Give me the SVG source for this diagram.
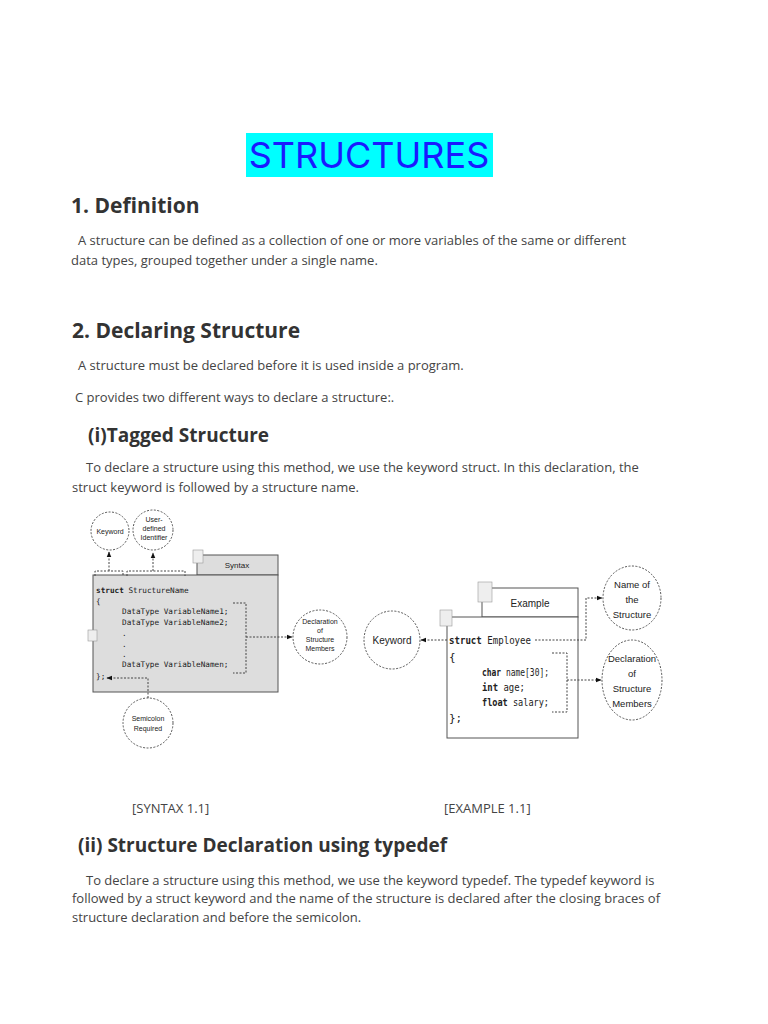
<svg xmlns="http://www.w3.org/2000/svg" width="768" height="1024" viewBox="0 0 768 1024">
<defs>
<style>
.h{font-family:"Open Sans","Liberation Sans",sans-serif;font-weight:bold;fill:#333;}
.b{font-family:"Open Sans","Liberation Sans",sans-serif;font-size:13px;fill:#444;}
.c{font-family:"DejaVu Sans Mono","Liberation Mono",monospace;fill:#222;}
.sm{font-family:"Liberation Sans",sans-serif;fill:#222;text-anchor:middle;}
.ci{fill:#fff;stroke:#555;stroke-width:1;stroke-dasharray:2 1.5;}
.d{fill:none;stroke:#444;stroke-width:1;stroke-dasharray:2 1.5;}
</style>
<marker id="a" viewBox="0 0 10 10" refX="9" refY="5" markerWidth="6" markerHeight="6" orient="auto"><path d="M0,1L10,5L0,9z" fill="#111"/></marker>
</defs>
<rect width="768" height="1024" fill="#fff"/>
<rect x="246" y="133" width="247" height="44" fill="#00ffff"/>
<text x="369" y="168" text-anchor="middle" font-family="Inter,'Liberation Sans',sans-serif" font-size="36" fill="#1a1aff">STRUCTURES</text>
<text class="h" x="71" y="213" font-size="21">1. Definition</text>
<text class="b" x="78" y="245">A structure can be defined as a collection of one or more variables of the same or different</text>
<text class="b" x="71" y="265">data types, grouped together under a single name.</text>
<text class="h" x="72" y="338" font-size="21">2. Declaring Structure</text>
<text class="b" x="78" y="370">A structure must be declared before it is used inside a program.</text>
<text class="b" x="75" y="402">C provides two different ways to declare a structure:.</text>
<text class="h" x="88" y="442" font-size="19">(i)Tagged Structure</text>
<text class="b" x="86" y="472">To declare a structure using this method, we use the keyword struct. In this declaration, the</text>
<text class="b" x="72" y="492">struct keyword is followed by a structure name.</text>

<g id="syntax">
<rect x="197" y="555" width="81" height="20" fill="#ddd" stroke="#555"/>
<text class="sm" x="237" y="568" font-size="8">Syntax</text>
<rect x="93" y="575" width="185" height="117" fill="#ddd" stroke="#555"/>
<rect x="193" y="550" width="10" height="13" fill="#eee" stroke="#999" stroke-width="0.6"/>
<rect x="88" y="630" width="9" height="11" fill="#eee" stroke="#999" stroke-width="0.6"/>
<g class="c" font-size="7.7">
<text x="96" y="593"><tspan font-weight="bold">struct</tspan> StructureName</text>
<text x="96" y="604">{</text>
<text x="122" y="614">DataType VariableName1;</text>
<text x="122" y="625">DataType VariableName2;</text>
<text x="122" y="636">.</text>
<text x="122" y="647">.</text>
<text x="122" y="657">.</text>
<text x="122" y="667">DataType VariableNamen;</text>
<text x="96" y="679">};</text>
</g>
</g>
<g id="kw1"><circle class="ci" cx="110" cy="531" r="19"/><text class="sm" x="110" y="534" font-size="7">Keyword</text></g>
<g id="udi"><circle class="ci" cx="153" cy="530" r="20"/><text class="sm" x="154" y="522" font-size="7">User-</text><text class="sm" x="154" y="531" font-size="7">defined</text><text class="sm" x="154" y="540" font-size="7">Identifier</text></g>
<g id="decl1"><circle class="ci" cx="320" cy="637" r="27"/><text class="sm" x="320" y="624" font-size="7">Declaration</text><text class="sm" x="320" y="633" font-size="7">of</text><text class="sm" x="320" y="642" font-size="7">Structure</text><text class="sm" x="320" y="651" font-size="7">Members</text></g>
<g id="semi"><circle class="ci" cx="148" cy="723" r="25"/><text class="sm" x="148" y="721" font-size="7">Semicolon</text><text class="sm" x="148" y="731" font-size="7">Required</text></g>

<g id="example">
<rect x="482" y="588" width="96" height="29" fill="#fff" stroke="#555"/>
<text class="sm" x="530" y="607" font-size="10">Example</text>
<rect x="447" y="617" width="131" height="121" fill="#fff" stroke="#555"/>
<rect x="478" y="582" width="14" height="20" fill="#eee" stroke="#999" stroke-width="0.6"/>
<rect x="440" y="610" width="12" height="16" fill="#eee" stroke="#999" stroke-width="0.6"/>
<g class="c" font-size="11">
<text x="449" y="644" textLength="82" lengthAdjust="spacingAndGlyphs"><tspan font-weight="bold">struct</tspan> Employee</text>
<text x="449" y="661">{</text>
<text x="482" y="676" textLength="67" lengthAdjust="spacingAndGlyphs"><tspan font-weight="bold">char</tspan> name[30];</text>
<text x="482" y="691" textLength="43" lengthAdjust="spacingAndGlyphs"><tspan font-weight="bold">int</tspan> age;</text>
<text x="482" y="706" textLength="67" lengthAdjust="spacingAndGlyphs"><tspan font-weight="bold">float</tspan> salary;</text>
<text x="449" y="722">};</text>
</g>
</g>
<g id="kw2"><ellipse class="ci" cx="392" cy="640" rx="28" ry="29"/><text class="sm" x="392" y="644" font-size="10">Keyword</text></g>
<g id="name"><ellipse class="ci" cx="632" cy="598" rx="29" ry="32"/><text class="sm" x="632" y="588" font-size="9.5">Name of</text><text class="sm" x="632" y="603" font-size="9.5">the</text><text class="sm" x="632" y="618" font-size="9.5">Structure</text></g>
<g id="decl2"><ellipse class="ci" cx="632" cy="680" rx="30" ry="40"/><text class="sm" x="632" y="662" font-size="9.5">Declaration</text><text class="sm" x="632" y="677" font-size="9.5">of</text><text class="sm" x="632" y="692" font-size="9.5">Structure</text><text class="sm" x="632" y="707" font-size="9.5">Members</text></g>

<g id="connectors">
<path class="d" d="M95,576V571H123V576M109,571V552" marker-end="url(#a)"/>
<path class="d" d="M127,576V571H185V576M153,571V553" marker-end="url(#a)"/>
<path class="d" d="M233,603H246V673H233M246,637H292" marker-end="url(#a)"/>
<path class="d" d="M148,698V678H107" marker-end="url(#a)"/>
<path class="d" d="M447,640H421" marker-end="url(#a)"/>
<path class="d" d="M535,640H586V598H602" marker-end="url(#a)"/>
<path class="d" d="M552,653H567V712H552M567,680H601" marker-end="url(#a)"/>
</g>

<text class="b" x="132" y="813">[SYNTAX 1.1]</text>
<text class="b" x="444" y="813">[EXAMPLE 1.1]</text>
<text class="h" x="78" y="852" font-size="19">(ii) Structure Declaration using typedef</text>
<text class="b" x="86" y="885">To declare a structure using this method, we use the keyword typedef. The typedef keyword is</text>
<text class="b" x="72" y="903">followed by a struct keyword and the name of the structure is declared after the closing braces of</text>
<text class="b" x="72" y="922">structure declaration and before the semicolon.</text>
</svg>
